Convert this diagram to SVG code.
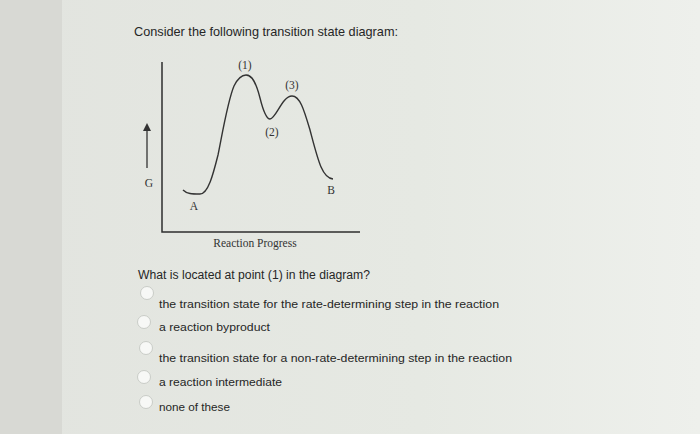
<svg xmlns="http://www.w3.org/2000/svg" width="700" height="434" viewBox="0 0 700 434">
<defs>
<linearGradient id="bg" x1="0" y1="0" x2="1" y2="0">
<stop offset="0" stop-color="#e2e4df"/>
<stop offset="0.6" stop-color="#e6e9e3"/>
<stop offset="1" stop-color="#eef0ec"/>
</linearGradient>
<marker id="ah" markerWidth="8" markerHeight="8" refX="4" refY="4" orient="auto" markerUnits="userSpaceOnUse">
<path d="M0,0 L8,4 L0,8 Z" fill="#333"/>
</marker>
<style>
.sans{font-family:"Liberation Sans",Arial,sans-serif;fill:#262626}
.serif{font-family:"Liberation Serif","Times New Roman",serif;fill:#333;font-size:11.5px}
.ax{stroke:#2e2e2e;stroke-width:1.5;fill:none}
.cv{stroke:#333;stroke-width:1.4;fill:none}
.rb{fill:#f7f8f6;stroke:#c9ccc7;stroke-width:1}
</style>
</defs>
<rect width="700" height="434" fill="url(#bg)"/>
<rect x="0" y="0" width="62" height="434" fill="#d8d9d4"/>
<text class="sans" x="134" y="36" font-size="13" textLength="264" lengthAdjust="spacingAndGlyphs">Consider the following transition state diagram:</text>
<g id="connectors">
<path class="ax" d="M162,62 V232 H360"/>
<line x1="147" y1="168" x2="147" y2="127" stroke="#333" stroke-width="1.3" marker-end="url(#ah)"/>
<path class="cv" d="M183,190 C187,194 192,194 200,194 C208,194 213,175 218,155 C223,130 228,100 234,86 C238,78 242,75 246,75 C252,75 256,82 260,98 C264,114 267,119 270,119 C276,119 282,96 292,96 C300,96 304,110 310,130 C318,160 322,178 333,179"/>
</g>
<g id="label-1"><text class="serif" x="245" y="69" text-anchor="middle">(1)</text></g>
<g id="label-3"><text class="serif" x="292" y="89" text-anchor="middle">(3)</text></g>
<g id="label-2"><text class="serif" x="272" y="136" text-anchor="middle">(2)</text></g>
<g id="label-A"><text class="serif" x="194" y="210" text-anchor="middle">A</text></g>
<g id="label-B"><text class="serif" x="331" y="194" text-anchor="middle">B</text></g>
<g id="label-G"><text class="serif" x="149" y="187" text-anchor="middle">G</text></g>
<g id="label-x"><text class="serif" x="255" y="247" text-anchor="middle">Reaction Progress</text></g>
<text class="sans" x="138" y="279" font-size="12" textLength="232" lengthAdjust="spacingAndGlyphs">What is located at point (1) in the diagram?</text>
<g id="opt1"><circle class="rb" cx="147" cy="293" r="6.5"/><text class="sans" x="159" y="308" font-size="11.5" textLength="340" lengthAdjust="spacingAndGlyphs">the transition state for the rate-determining step in the reaction</text></g>
<g id="opt2"><circle class="rb" cx="144" cy="322" r="6.5"/><text class="sans" x="159" y="331" font-size="11.5" textLength="111" lengthAdjust="spacingAndGlyphs">a reaction byproduct</text></g>
<g id="opt3"><circle class="rb" cx="146" cy="348" r="6.5"/><text class="sans" x="159" y="362" font-size="11.5" textLength="353" lengthAdjust="spacingAndGlyphs">the transition state for a non-rate-determining step in the reaction</text></g>
<g id="opt4"><circle class="rb" cx="144" cy="377" r="6.5"/><text class="sans" x="159" y="386" font-size="11.5" textLength="123" lengthAdjust="spacingAndGlyphs">a reaction intermediate</text></g>
<g id="opt5"><circle class="rb" cx="146" cy="402" r="6.5"/><text class="sans" x="159" y="411" font-size="11.5" textLength="71" lengthAdjust="spacingAndGlyphs">none of these</text></g>
</svg>
